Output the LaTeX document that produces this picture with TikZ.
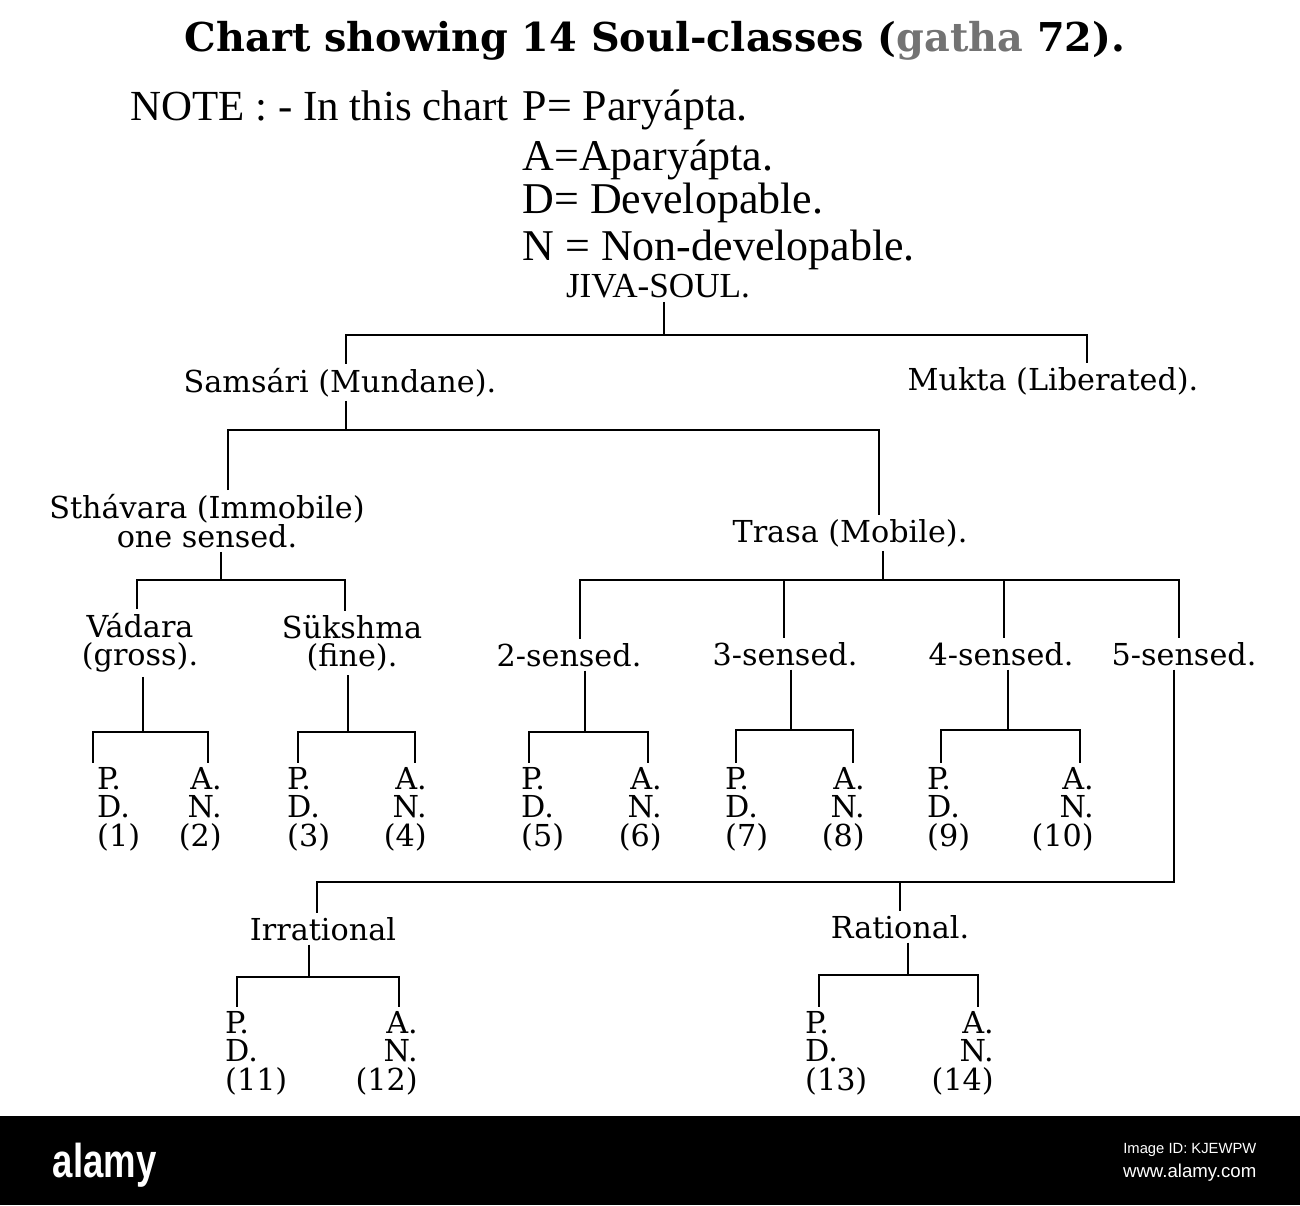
\documentclass[tikz,border=0pt]{standalone}
\usepackage{fontspec}
\setmainfont{DejaVu Serif}
\newfontfamily\notefont{Liberation Serif}
\newfontfamily\brandfont[FakeStretch=0.77]{Liberation Sans}
\newfontfamily\markfont{Liberation Sans}
\begin{document}
\begin{tikzpicture}[x=0.01cm, y=-0.01cm,
    lab/.style={inner sep=1pt, font=\fontsize{8.6}{8.1}\selectfont},
    leafP/.style={lab, align=left, anchor=west},
    leafA/.style={lab, align=right, anchor=east},
    note/.style={inner sep=0pt, anchor=base west, font=\notefont\fontsize{12.5}{14}\selectfont},
    tie/.style={line width=0.75pt}
  ]
  \useasboundingbox (0,0) rectangle (1300,1205);
  % heading and key
  \node[inner sep=0pt, anchor=base, font=\bfseries\fontsize{11.3}{12}\selectfont] (title) at (655,51)
    {Chart showing 14 Soul-classes ({\color{black!55}gatha} 72).};
  \node[note, anchor=base east, font=\notefont\fontsize{12.2}{14}\selectfont] (note) at (509,120) {NOTE : - In this chart};
  \node[note] (kp) at (522,120) {P= Paryápta.};
  \node[note] (ka) at (522,170) {A=Aparyápta.};
  \node[note] (kd) at (522,213) {D= Developable.};
  \node[note] (kn) at (522,260) {N = Non-developable.};

  % classes
  \node[lab, anchor=base, font=\notefont\fontsize{10}{11}\selectfont] (jiva) at (658,297) {JIVA-SOUL.};
  \node[lab, anchor=base] (samsari) at (340,392) {Samsári (Mundane).};
  \node[lab, anchor=base] (mukta) at (1053,390) {Mukta (Liberated).};
  \node[lab, align=center] (sthavara) at (207,521) {Sthávara (Immobile)\\one sensed.};
  \node[lab, anchor=base] (trasa) at (850,542) {Trasa (Mobile).};
  \node[lab, align=center] (vadara) at (140,643) {Vádara\\(gross).};
  \node[lab, align=center] (sukshma) at (352,643) {Sükshma\\(fine).};
  \node[lab, anchor=base] (s2) at (569,666) {2-sensed.};
  \node[lab, anchor=base] (s3) at (785,665) {3-sensed.};
  \node[lab, anchor=base] (s4) at (1001,665) {4-sensed.};
  \node[lab, anchor=base] (s5) at (1184,665) {5-sensed.};
  \node[lab, anchor=base] (irr) at (323,940) {Irrational};
  \node[lab, anchor=base] (rat) at (900,938) {Rational.};

  % the fourteen
  \node[leafP] (p1) at (93,809) {P.\\D.\\(1)};
  \node[leafA] (a2) at (226,809) {A.\\N.\\(2)};
  \node[leafP] (p3) at (283,809) {P.\\D.\\(3)};
  \node[leafA] (a4) at (431,809) {A.\\N.\\(4)};
  \node[leafP] (p5) at (517,809) {P.\\D.\\(5)};
  \node[leafA] (a6) at (666,809) {A.\\N.\\(6)};
  \node[leafP] (p7) at (721,809) {P.\\D.\\(7)};
  \node[leafA] (a8) at (869,809) {A.\\N.\\(8)};
  \node[leafP] (p9) at (923,809) {P.\\D.\\(9)};
  \node[leafA] (a10) at (1098,809) {A.\\N.\\(10)};
  \node[leafP] (p11) at (221,1053) {P.\\D.\\(11)};
  \node[leafA] (a12) at (422,1053) {A.\\N.\\(12)};
  \node[leafP] (p13) at (801,1053) {P.\\D.\\(13)};
  \node[leafA] (a14) at (998,1053) {A.\\N.\\(14)};

  % jiva
  \coordinate (jv) at (664,335);
  \coordinate (jl) at (346,335);
  \coordinate (jr) at (1087,335);
  \draw[tie] (jv |- jiva.south) -- (jv);
  \draw[tie] (jl |- samsari.north) -- (jl) -- (jr) -- (jr |- mukta.north);
  % samsari
  \coordinate (mv) at (346,430);
  \coordinate (ml) at (228,430);
  \coordinate (mr) at (879,430);
  \draw[tie] (mv |- samsari.south) -- (mv);
  \draw[tie] (ml |- sthavara.north) -- (ml) -- (mr) -- (mr |- trasa.north);
  % sthavara
  \coordinate (hv) at (221,580);
  \coordinate (hl) at (137,580);
  \coordinate (hr) at (345,580);
  \draw[tie] (hv |- sthavara.south) -- (hv);
  \draw[tie] (hl |- vadara.north) -- (hl) -- (hr) -- (hr |- sukshma.north);
  % trasa
  \coordinate (tv) at (883,580);
  \coordinate (t2) at (580,580);
  \coordinate (t3) at (784,580);
  \coordinate (t4) at (1004,580);
  \coordinate (t5) at (1179,580);
  \draw[tie] (tv |- trasa.south) -- (tv);
  \draw[tie] (t2 |- s2.north) -- (t2) -- (t5) -- (t5 |- s5.north);
  \draw[tie] (t3) -- (t3 |- s3.north);
  \draw[tie] (t4) -- (t4 |- s4.north);
  % vadara
  \coordinate (vv) at (143,732);
  \coordinate (vl) at (93,732);
  \coordinate (vr) at (208,732);
  \draw[tie] (vv |- vadara.south) -- (vv);
  \draw[tie] (vl |- p1.north) -- (vl) -- (vr) -- (vr |- a2.north);
  % sukshma
  \coordinate (kv) at (348,732);
  \coordinate (kl) at (298,732);
  \coordinate (kr) at (415,732);
  \draw[tie] (kv |- sukshma.south) -- (kv);
  \draw[tie] (kl |- p3.north) -- (kl) -- (kr) -- (kr |- a4.north);
  % 2-sensed
  \coordinate (bv) at (585,732);
  \coordinate (bl) at (529,732);
  \coordinate (br) at (648,732);
  \draw[tie] (bv |- s2.south) -- (bv);
  \draw[tie] (bl |- p5.north) -- (bl) -- (br) -- (br |- a6.north);
  % 3-sensed
  \coordinate (cv) at (791,730);
  \coordinate (cl) at (736,730);
  \coordinate (cr) at (853,730);
  \draw[tie] (cv |- s3.south) -- (cv);
  \draw[tie] (cl |- p7.north) -- (cl) -- (cr) -- (cr |- a8.north);
  % 4-sensed
  \coordinate (dv) at (1008,730);
  \coordinate (dl) at (941,730);
  \coordinate (dr) at (1080,730);
  \draw[tie] (dv |- s4.south) -- (dv);
  \draw[tie] (dl |- p9.north) -- (dl) -- (dr) -- (dr |- a10.north);
  % 5-sensed
  \coordinate (fv) at (1174,882);
  \coordinate (fl) at (317,882);
  \coordinate (fm) at (900,882);
  \draw[tie] (fv |- s5.south) -- (fv) -- (fl) -- (fl |- irr.north);
  \draw[tie] (fm) -- (fm |- rat.north);
  % irrational
  \coordinate (iv) at (309,977);
  \coordinate (il) at (237,977);
  \coordinate (ir) at (399,977);
  \draw[tie] (iv |- irr.south) -- (iv);
  \draw[tie] (il |- p11.north) -- (il) -- (ir) -- (ir |- a12.north);
  % rational
  \coordinate (rv) at (908,975);
  \coordinate (rl) at (819,975);
  \coordinate (rr) at (978,975);
  \draw[tie] (rv |- rat.south) -- (rv);
  \draw[tie] (rl |- p13.north) -- (rl) -- (rr) -- (rr |- a14.north);

  % stock band
  \fill[black] (0,1116) rectangle (1300,1205);
  \node[inner sep=0pt, anchor=base west, text=white, font=\brandfont\bfseries\fontsize{13.5}{14}\selectfont] (brand) at (52,1177) {alamy};
  \node[inner sep=0pt, anchor=base east, text=white, font=\markfont\fontsize{4.2}{5}\selectfont] (imgid) at (1257,1153) {Image ID: KJEWPW};
  \node[inner sep=0pt, anchor=base east, text=white, font=\markfont\fontsize{5.3}{6}\selectfont] (site) at (1257,1177) {www.alamy.com};
\end{tikzpicture}
\end{document}
